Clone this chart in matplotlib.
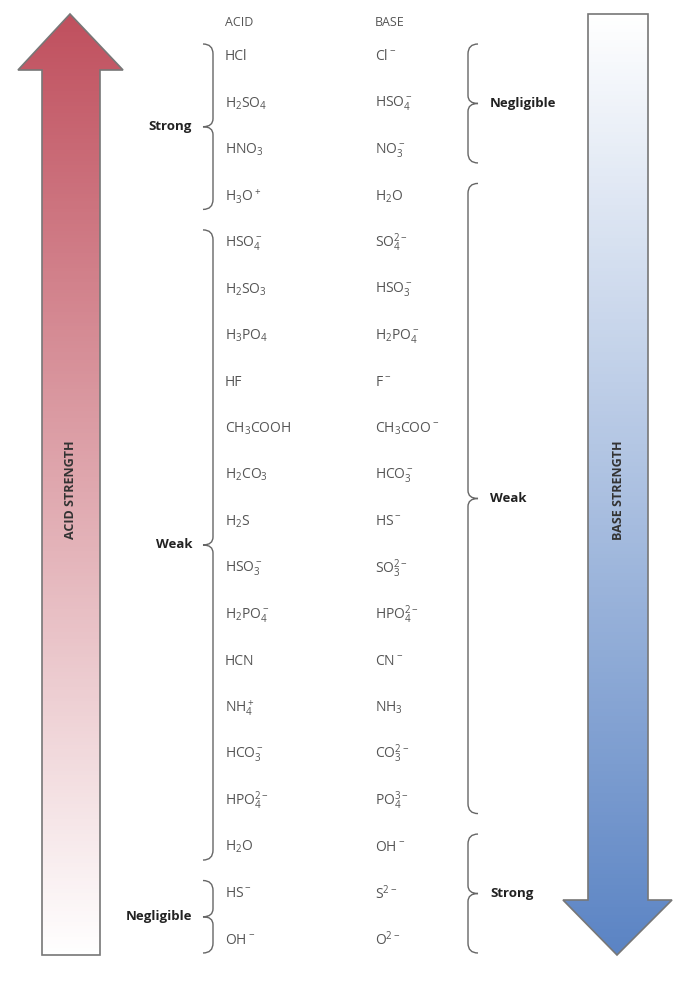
import numpy as np
import matplotlib
matplotlib.use("Agg")
import matplotlib.pyplot as plt
from matplotlib.patches import Polygon, PathPatch
from matplotlib.path import Path
from matplotlib.colors import LinearSegmentedColormap

plt.rcParams['font.family'] = ['Open Sans', 'DejaVu Sans']
plt.rcParams['mathtext.fontset'] = 'custom'
plt.rcParams['mathtext.rm'] = 'Open Sans'

acids = ['HCl', r'H$_2$SO$_4$', r'HNO$_3$', r'H$_3$O$^+$', r'HSO$_4^-$', r'H$_2$SO$_3$',
         r'H$_3$PO$_4$', 'HF', r'CH$_3$COOH', r'H$_2$CO$_3$', r'H$_2$S', r'HSO$_3^-$',
         r'H$_2$PO$_4^-$', 'HCN', r'NH$_4^+$', r'HCO$_3^-$', r'HPO$_4^{2-}$', r'H$_2$O',
         r'HS$^-$', r'OH$^-$']
bases = [r'Cl$^-$', r'HSO$_4^-$', r'NO$_3^-$', r'H$_2$O', r'SO$_4^{2-}$', r'HSO$_3^-$',
         r'H$_2$PO$_4^-$', r'F$^-$', r'CH$_3$COO$^-$', r'HCO$_3^-$', r'HS$^-$', r'SO$_3^{2-}$',
         r'HPO$_4^{2-}$', r'CN$^-$', r'NH$_3$', r'CO$_3^{2-}$', r'PO$_4^{3-}$', r'OH$^-$',
         r'S$^{2-}$', r'O$^{2-}$']
# (label, first row, last row)
acid_groups = [('Strong', 0, 3), ('Weak', 4, 17), ('Negligible', 18, 19)]
base_groups = [('Negligible', 0, 2), ('Weak', 3, 16), ('Strong', 17, 19)]

fig = plt.figure(figsize=(6.78, 9.94), dpi=100)
ax = fig.add_axes([0, 0, 1, 1])
ax.set_xlim(0, 678)
ax.set_ylim(994, 0)
ax.axis('off')

row_y = np.linspace(57, 940, len(acids))
txt = '#555555'


def gradient_arrow(verts, c_top, c_bot):
    poly = Polygon(verts, closed=True, facecolor='none', edgecolor='#777777', lw=1.2, zorder=3)
    ax.add_patch(poly)
    cmap = LinearSegmentedColormap.from_list('g', [c_top, c_bot])
    xs = [v[0] for v in verts]
    ys = [v[1] for v in verts]
    grad = np.linspace(0, 1, 256).reshape(-1, 1)
    im = ax.imshow(grad, cmap=cmap, aspect='auto',
                   extent=[min(xs), max(xs), max(ys), min(ys)], zorder=2)
    im.set_clip_path(poly)


gradient_arrow([(42, 955), (42, 70), (18, 70), (70, 14), (123, 70), (100, 70), (100, 955)],
               '#c0505e', '#ffffff')
gradient_arrow([(588, 14), (648, 14), (648, 900), (672, 900), (617, 955), (563, 900), (588, 900)],
               '#ffffff', '#5b84c4')
ax.text(71, 490, 'ACID STRENGTH', rotation=90, ha='center', va='center',
        fontsize=9, fontweight='bold', color='#333333', zorder=4)
ax.text(618, 490, 'BASE STRENGTH', rotation=90, ha='center', va='center',
        fontsize=9, fontweight='bold', color='#333333', zorder=4)

ax.text(225, 22, 'ACID', fontsize=9, color=txt, va='center')
ax.text(375, 22, 'BASE', fontsize=9, color=txt, va='center')
for y, a, b in zip(row_y, acids, bases):
    ax.text(225, y, a, fontsize=10, color=txt, va='center')
    ax.text(375, y, b, fontsize=10, color=txt, va='center')


def brace(x, y0, y1, side):
    # side=-1 points left, +1 points right
    w = 10 * side
    ym = (y0 + y1) / 2
    c = Path.CURVE3
    verts = [(x, y0), (x - w, y0), (x - w, y0 + 10), (x - w, ym - 8),
             (x - w, ym), (x, ym), (x - w, ym), (x - w, ym + 8),
             (x - w, y1 - 10), (x - w, y1), (x, y1)]
    codes = [Path.MOVETO, c, c, Path.LINETO, c, c, c, c, Path.LINETO, c, c]
    ax.add_patch(PathPatch(Path(verts, codes), fill=False, edgecolor='#666666', lw=1))
    return ym


for lab, a, b in acid_groups:
    ym = brace(203, row_y[a] - 13, row_y[b] + 13, -1)
    ax.text(192, ym, lab, ha='right', va='center', fontsize=9.5, fontweight='bold', color='#222222')
for lab, a, b in base_groups:
    ym = brace(478, row_y[a] - 13, row_y[b] + 13, 1)
    ax.text(490, ym, lab, ha='left', va='center', fontsize=9.5, fontweight='bold', color='#222222')

fig.savefig('out.png', dpi=100)
